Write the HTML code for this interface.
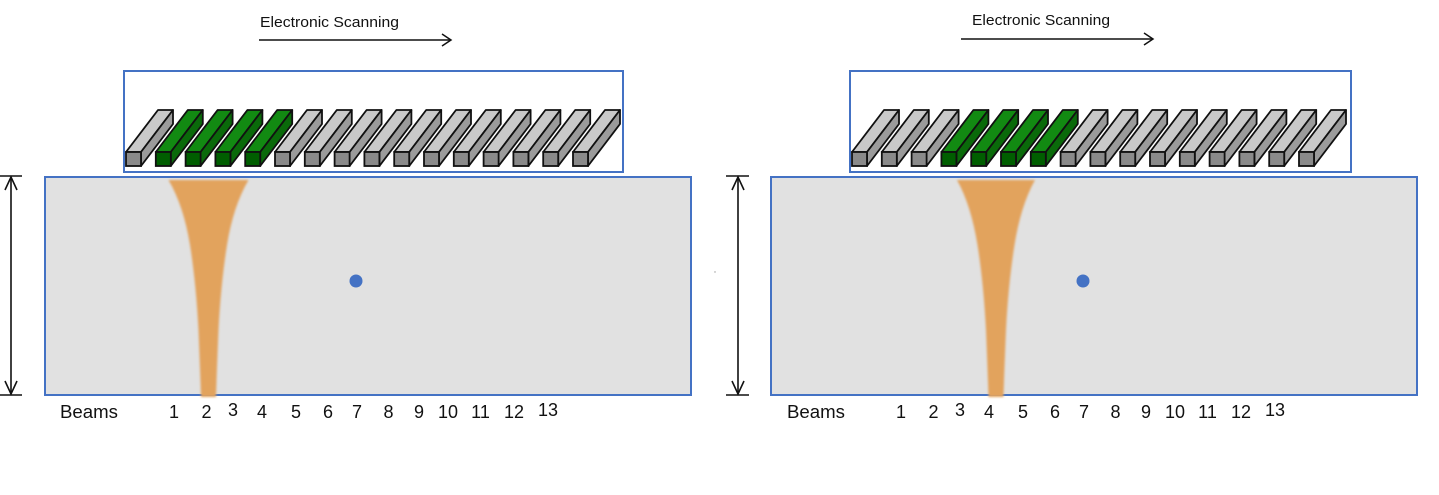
<!DOCTYPE html>
<html><head><meta charset="utf-8"><style>
html,body{margin:0;padding:0;background:#fff;}
svg{display:block;}
text{font-family:"Liberation Sans",Arial,sans-serif;fill:#111;}
</style></head><body>
<svg width="1439" height="495" viewBox="0 0 1439 495" xmlns="http://www.w3.org/2000/svg">
<defs>
<filter id="bl" x="-20%" y="-5%" width="140%" height="110%"><feGaussianBlur stdDeviation="1.1"/></filter>
<g id="gEl">
 <polygon points="0,152 15,152 47,110 32,110" fill="#c9c9c9" stroke="#111" stroke-width="1.8" stroke-linejoin="round"/>
 <polygon points="15,152 47,110 47,124 15,166" fill="#9b9b9b" stroke="#111" stroke-width="1.8" stroke-linejoin="round"/>
 <rect x="0" y="152" width="15" height="14" fill="#8a8a8a" stroke="#111" stroke-width="1.8"/>
</g>
<g id="gGr">
 <polygon points="0,152 15,152 47,110 32,110" fill="#128a12" stroke="#111" stroke-width="1.8" stroke-linejoin="round"/>
 <polygon points="15,152 47,110 47,124 15,166" fill="#0a6a0a" stroke="#111" stroke-width="1.8" stroke-linejoin="round"/>
 <rect x="0" y="152" width="15" height="14" fill="#005e00" stroke="#111" stroke-width="1.8"/>
</g>
</defs>

<!-- LEFT PANEL -->
<text x="260" y="27" font-size="15" textLength="139" lengthAdjust="spacingAndGlyphs">Electronic Scanning</text>
<line x1="259" y1="40" x2="451" y2="40" stroke="#111" stroke-width="1.5"/>
<polyline points="442,34 451,40 442,46" fill="none" stroke="#111" stroke-width="1.5"/>

<rect x="124" y="71" width="499" height="101" fill="#fff" stroke="#4472c4" stroke-width="2"/>
<use href="#gEl" x="126"/>
<use href="#gGr" x="155.8"/>
<use href="#gGr" x="185.6"/>
<use href="#gGr" x="215.4"/>
<use href="#gGr" x="245.2"/>
<use href="#gEl" x="275"/>
<use href="#gEl" x="304.8"/>
<use href="#gEl" x="334.6"/>
<use href="#gEl" x="364.4"/>
<use href="#gEl" x="394.2"/>
<use href="#gEl" x="424"/>
<use href="#gEl" x="453.8"/>
<use href="#gEl" x="483.6"/>
<use href="#gEl" x="513.4"/>
<use href="#gEl" x="543.2"/>
<use href="#gEl" x="573"/>

<rect x="45" y="177" width="646" height="218" fill="#e1e1e1" stroke="#4472c4" stroke-width="2"/>
<path filter="url(#bl)" fill="#e2a35d" d="M168.5,180 L248.5,180 C238,198 231,220 227,245 C223,270 220,300 218.5,330 C217.5,355 216.5,380 216,397 L201,397 C200.5,380 199.5,355 198.5,330 C197,300 194,270 190,245 C186,220 179,198 168.5,180 Z"/>
<circle cx="356" cy="281" r="6.5" fill="#4472c4"/>

<line x1="11" y1="177" x2="11" y2="394" stroke="#111" stroke-width="1.6"/>
<line x1="0" y1="176" x2="22" y2="176" stroke="#111" stroke-width="1.6"/>
<line x1="0" y1="395" x2="22" y2="395" stroke="#111" stroke-width="1.6"/>
<polyline points="5,190 11,177 17,190" fill="none" stroke="#111" stroke-width="1.6"/>
<polyline points="5,381 11,394 17,381" fill="none" stroke="#111" stroke-width="1.6"/>

<text x="60" y="418" font-size="18" textLength="58" lengthAdjust="spacingAndGlyphs">Beams</text>
<g font-size="18" text-anchor="middle">
<text x="174" y="418">1</text><text x="206.5" y="418">2</text><text x="233" y="416">3</text><text x="262" y="418">4</text>
<text x="296" y="418">5</text><text x="328" y="418">6</text><text x="357" y="418">7</text><text x="388.5" y="418">8</text>
<text x="419" y="418">9</text><text x="448" y="418">10</text><text x="480.5" y="418">11</text><text x="514" y="418">12</text><text x="548" y="416">13</text>
</g>

<circle cx="715" cy="272" r="0.7" fill="#999"/>

<!-- RIGHT PANEL -->
<text x="972" y="25" font-size="15" textLength="138" lengthAdjust="spacingAndGlyphs">Electronic Scanning</text>
<line x1="961" y1="39" x2="1153" y2="39" stroke="#111" stroke-width="1.5"/>
<polyline points="1144,33 1153,39 1144,45" fill="none" stroke="#111" stroke-width="1.5"/>

<rect x="850" y="71" width="501" height="101" fill="#fff" stroke="#4472c4" stroke-width="2"/>
<use href="#gEl" x="852"/>
<use href="#gEl" x="881.8"/>
<use href="#gEl" x="911.6"/>
<use href="#gGr" x="941.4"/>
<use href="#gGr" x="971.2"/>
<use href="#gGr" x="1001"/>
<use href="#gGr" x="1030.8"/>
<use href="#gEl" x="1060.6"/>
<use href="#gEl" x="1090.4"/>
<use href="#gEl" x="1120.2"/>
<use href="#gEl" x="1150"/>
<use href="#gEl" x="1179.8"/>
<use href="#gEl" x="1209.6"/>
<use href="#gEl" x="1239.4"/>
<use href="#gEl" x="1269.2"/>
<use href="#gEl" x="1299"/>

<rect x="771" y="177" width="646" height="218" fill="#e1e1e1" stroke="#4472c4" stroke-width="2"/>
<path filter="url(#bl)" fill="#e2a35d" d="M957,180 L1035,180 C1025,198 1018.5,220 1014.5,245 C1010.5,270 1007.5,300 1006,330 C1005,355 1004,380 1003.5,397 L988.5,397 C988,380 987,355 986,330 C984.5,300 981.5,270 977.5,245 C973.5,220 967,198 957,180 Z"/>
<circle cx="1083" cy="281" r="6.5" fill="#4472c4"/>

<line x1="738" y1="177" x2="738" y2="394" stroke="#111" stroke-width="1.6"/>
<line x1="726" y1="176" x2="749" y2="176" stroke="#111" stroke-width="1.6"/>
<line x1="726" y1="395" x2="749" y2="395" stroke="#111" stroke-width="1.6"/>
<polyline points="732,190 738,177 744,190" fill="none" stroke="#111" stroke-width="1.6"/>
<polyline points="732,381 738,394 744,381" fill="none" stroke="#111" stroke-width="1.6"/>

<text x="787" y="418" font-size="18" textLength="58" lengthAdjust="spacingAndGlyphs">Beams</text>
<g font-size="18" text-anchor="middle">
<text x="901" y="418">1</text><text x="933.5" y="418">2</text><text x="960" y="416">3</text><text x="989" y="418">4</text>
<text x="1023" y="418">5</text><text x="1055" y="418">6</text><text x="1084" y="418">7</text><text x="1115.5" y="418">8</text>
<text x="1146" y="418">9</text><text x="1175" y="418">10</text><text x="1207.5" y="418">11</text><text x="1241" y="418">12</text><text x="1275" y="416">13</text>
</g>
</svg>
</body></html>
